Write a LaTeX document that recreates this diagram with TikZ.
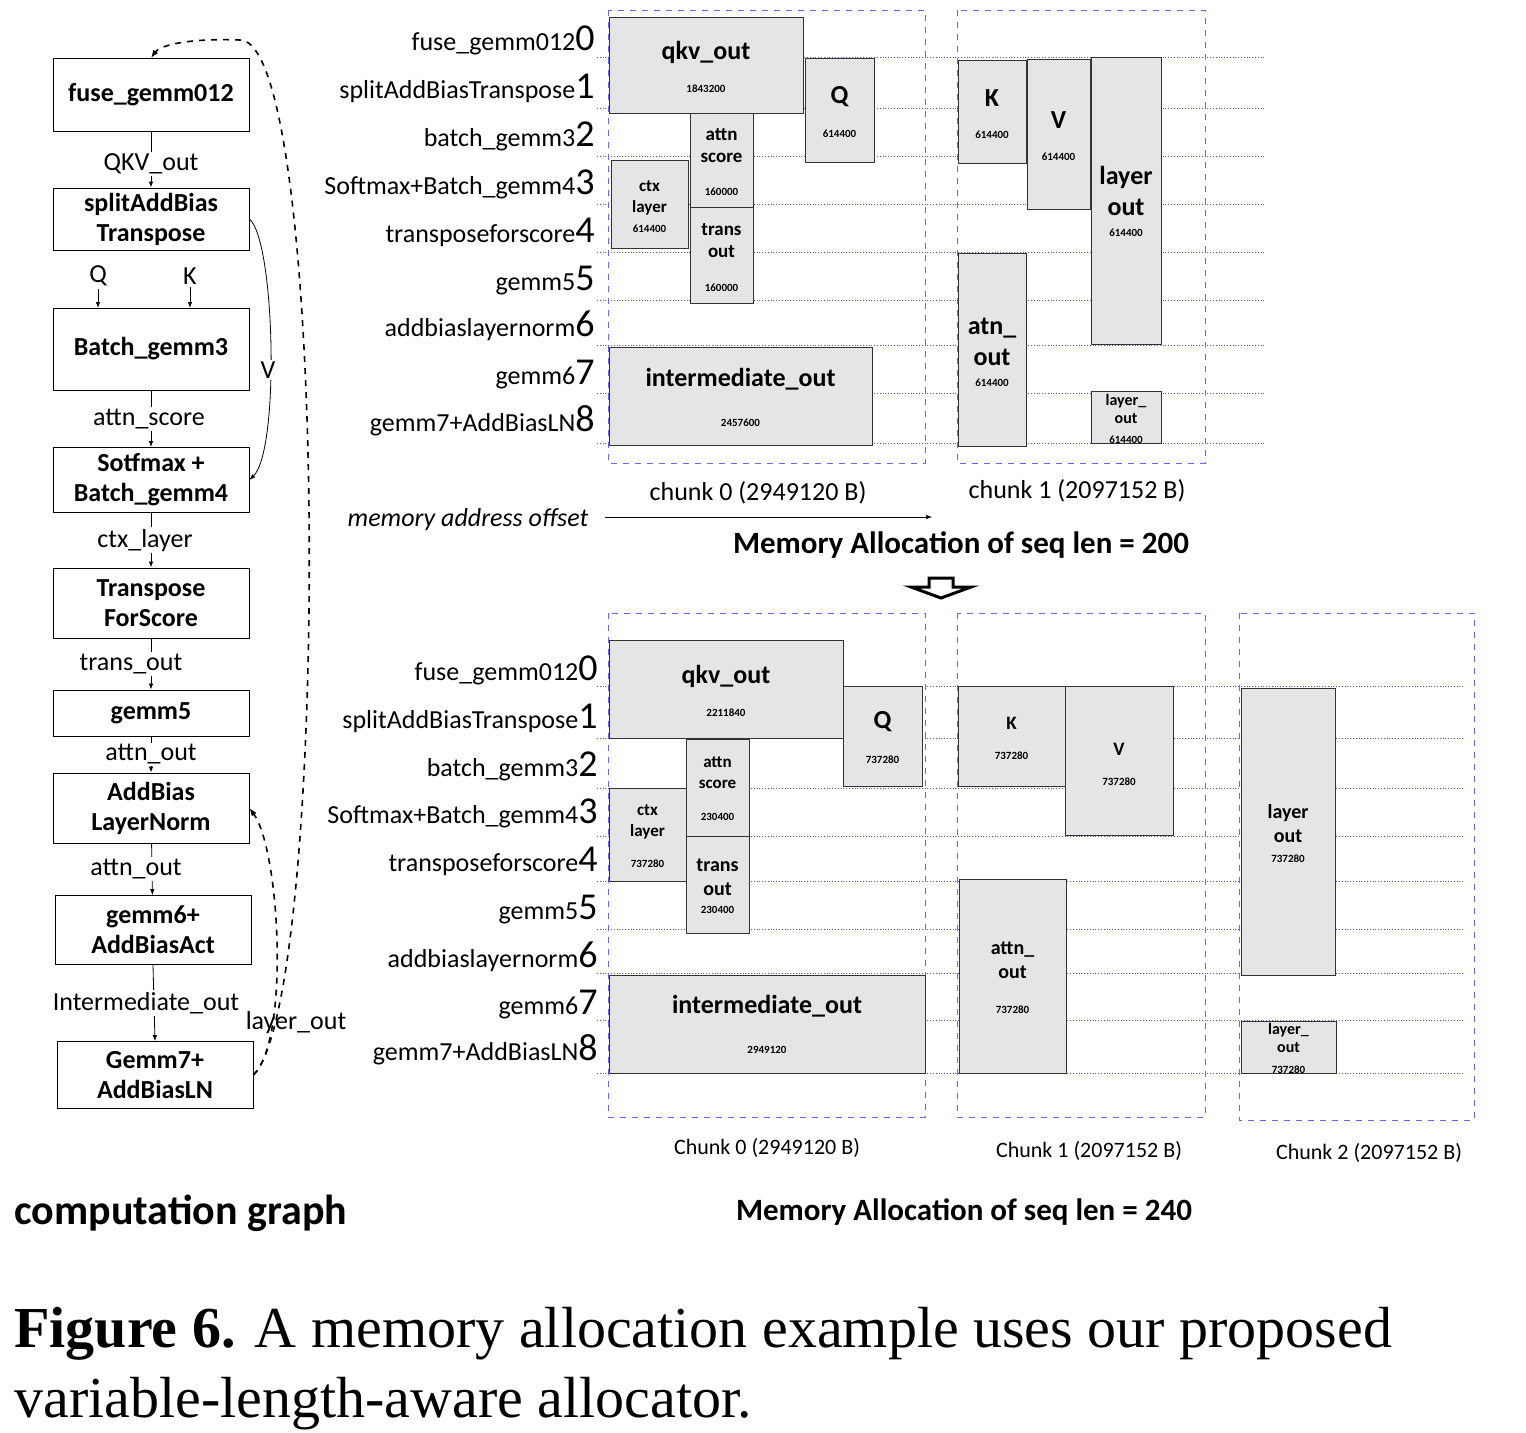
\documentclass[tikz,border=0pt]{standalone}
\usepackage{fontspec}
\setmainfont{Carlito}
\newfontfamily\capfont{Liberation Serif}
\usetikzlibrary{arrows.meta}
\tikzset{
  gbox/.style={draw, minimum width=98pt, font=\fontsize{13}{15}\selectfont\bfseries, align=center, inner sep=1pt},
  elab/.style={fill=white, inner sep=1pt, font=\fontsize{13}{14}\selectfont},
  blk/.style={draw=black!80, fill=gray!20, line width=0.5pt},
  btitle/.style={font=\fontsize{13}{14}\selectfont\bfseries, align=center, inner sep=0pt},
  bnum/.style={font=\fontsize{5.5}{6}\selectfont\bfseries, inner sep=0pt},
  rowline/.style={blue!70, densely dotted, line width=0.4pt},
  chunk/.style={blue!60, dashed, line width=0.4pt},
  rowlab/.style={anchor=base east, inner sep=0pt, font=\fontsize{13}{14}\selectfont},
  chlab/.style={font=\fontsize{13}{14}\selectfont},
}
\newcommand{\rowtxt}[4]{\node[rowlab] (#1) at (#2) {#3{\fontsize{19}{19}\selectfont #4}};}
\newcommand{\twol}[4]{{\fontsize{#1}{#1}\selectfont\bfseries\renewcommand\arraystretch{#2}\begin{tabular}{@{}c@{}}#3\\#4\end{tabular}}}
% block: name, x1,y1, x2,y2, title, title y, number, number y
\newcommand{\memblk}[9]{%
  \draw[blk] (#2,#3) rectangle (#4,#5);
  \node[btitle] (#1) at ({(#2+#4)/2},#7) {#6};
  \node[bnum] (#1n) at ({(#2+#4)/2},#9) {#8};}
\begin{document}
\begin{tikzpicture}[x=0.5pt, y=-0.5pt]
\useasboundingbox (0,0) rectangle (1526,1432);

% computation graph
\node[gbox, minimum height=36.5pt] (fuse) at (151,95) {fuse\_gemm012};
\node[gbox, minimum height=31pt] (split) at (151,219) {splitAddBias\\Transpose};
\node[gbox, minimum height=41pt] (bg3) at (151,349) {Batch\_gemm3};
\node[gbox, minimum height=32.5pt] (bg4) at (151,480) {Sotfmax +\\Batch\_gemm4};
\node[gbox, minimum height=35pt] (tfs) at (151,603) {Transpose\\ForScore};
\node[gbox, minimum height=23pt] (g5) at (151,713) {gemm5};
\node[gbox, minimum height=35pt] (abln) at (151,808) {AddBias\\LayerNorm};
\node[gbox, minimum height=34.5pt] (g6) at (153,930) {gemm6+\\AddBiasAct};
\node[gbox, minimum height=33.5pt] (g7) at (155,1075) {Gemm7+\\AddBiasLN};

\draw[-{Latex[length=3pt]}] (fuse) -- (split) node[elab, midway, yshift=-2] (qkv) {QKV\_out};
\node[elab] (ql) at (98,276) {Q};
\node[elab] (kl) at (190,276) {K};
\draw[-{Latex[length=3pt]}] (ql) -- (98,308);
\draw[-{Latex[length=3pt]}] (kl) -- (190,308);
\draw[-{Latex[length=3pt]}] (bg3) -- (bg4) node[elab, midway, xshift=-1] (as) {attn\_score};
\draw[-{Latex[length=3pt]}] (bg4) -- (tfs) node[elab, midway, xshift=-3] (ctx) {ctx\_layer};
\draw[-{Latex[length=3pt]}] (tfs) -- (g5) node[elab, midway, xshift=-10] (tro) {trans\_out};
\draw[-{Latex[length=3pt]}] (g5) -- (abln) node[elab, midway] (ao1) {attn\_out};
\draw[-{Latex[length=3pt]}] (abln) -- (g6) node[elab, midway, xshift=-8] (ao2) {attn\_out};
\draw[-{Latex[length=3pt]}] (g6.south) -- (g7.north) node[elab, midway, xshift=-4] (imo) {Intermediate\_out};
\draw[-{Latex[length=3pt]}] (split.east) .. controls (275,240) and (280,450) .. (bg4.east);
\node[elab] (vl) at (268,370) {V};
\node[elab] (lo) at (296,1023) {layer\_out};
\draw[dashed, line width=0.8pt, -{Latex[length=4pt]}] (g7.east) .. controls (290,1040) and (280,850) .. (abln.east);
\draw[dashed, line width=0.8pt, -{Latex[length=4pt]}] (g7.east) .. controls (330,1000) and (330,40) .. (240,40)
  .. controls (190,38) and (160,45) .. (fuse.north);
\node[font=\fontsize{21}{22}\selectfont\bfseries, anchor=west, inner sep=0pt] (cg) at (14,1213) {computation graph};

% seq len 200
\foreach \y in {57,108,156,204,252,300,345,393,443} \draw[rowline] (597,\y) -- (1265,\y);
\draw[chunk] (608,10) rectangle (925,463);
\draw[chunk] (957,10) rectangle (1205,463);
\rowtxt{ra0}{595,50}{fuse\_gemm012}{0}
\rowtxt{ra1}{595,98}{splitAddBiasTranspose}{1}
\rowtxt{ra2}{595,146}{batch\_gemm3}{2}
\rowtxt{ra3}{595,194}{Softmax+Batch\_gemm4}{3}
\rowtxt{ra4}{595,242}{transposeforscore}{4}
\rowtxt{ra5}{595,290}{gemm5}{5}
\rowtxt{ra6}{595,336}{addbiaslayernorm}{6}
\rowtxt{ra7}{595,384}{gemm6}{7}
\rowtxt{ra8}{595,431}{gemm7+AddBiasLN}{8}
\memblk{aqkv}{609}{17}{803}{113}{qkv\_out}{52}{1843200}{89}
\memblk{aq}{805}{58}{874}{162}{Q}{97}{614400}{134}
\memblk{aas}{690}{113}{753}{207}{\twol{9.5}{1.2}{attn}{score}}{147}{160000}{192}
\memblk{actx}{611}{160}{688}{248}{\twol{8.5}{1.2}{ctx}{layer}}{198}{614400}{229}
\memblk{atr}{690}{207}{753}{303}{\twol{9.5}{1.2}{trans}{out}}{242}{160000}{288}
\memblk{aim}{609}{347}{872}{445}{intermediate\_out}{379}{2457600}{423}
\memblk{ak}{958}{60}{1026}{163}{K}{98}{614400}{135}
\memblk{av}{1027}{59}{1090}{209}{V}{120}{614400}{157}
\memblk{alo}{1091}{57}{1161}{344}{\twol{13}{1.2}{layer}{out}}{194}{614400}{233}
\memblk{aat}{958}{253}{1026}{446}{\twol{13}{1.2}{atn\_}{out}}{344}{614400}{383}
\memblk{al2}{1091}{391}{1161}{443}{\twol{8}{1.1}{layer\_}{out}}{411}{614400}{440}
\node[chlab] (c0a) at (758,493) {chunk 0 (2949120 B)};
\node[chlab] (c1a) at (1077,491) {chunk 1 (2097152 B)};
\node[chlab, font=\fontsize{13}{14}\selectfont\itshape] (mao) at (468,520) {memory address offset};
\coordinate (maoe) at (932,517);
\draw[-{Latex[length=3pt]}, line width=0.3pt] (605,517) -- (maoe);
\node[font=\fontsize{15.5}{16}\selectfont\bfseries] (t200) at (961,545) {Memory Allocation of seq len = 200};
\draw[line width=1.5pt] (929,578) -- (953,578) -- (953,587) -- (971,587) -- (941,598) -- (911,587) -- (929,587) -- cycle;

% seq len 240
\foreach \y in {686,738,788,836,881,929,973,1020,1073} \draw[rowline] (597,\y) -- (1465,\y);
\draw[chunk] (608,613) rectangle (925,1117);
\draw[chunk] (957,613) rectangle (1205,1117);
\draw[chunk] (1239,613) rectangle (1474,1120);
\rowtxt{rb0}{598,680}{fuse\_gemm012}{0}
\rowtxt{rb1}{598,728}{splitAddBiasTranspose}{1}
\rowtxt{rb2}{598,776}{batch\_gemm3}{2}
\rowtxt{rb3}{598,823}{Softmax+Batch\_gemm4}{3}
\rowtxt{rb4}{598,871}{transposeforscore}{4}
\rowtxt{rb5}{598,919}{gemm5}{5}
\rowtxt{rb6}{598,967}{addbiaslayernorm}{6}
\rowtxt{rb7}{598,1014}{gemm6}{7}
\rowtxt{rb8}{598,1060}{gemm7+AddBiasLN}{8}
\memblk{bqkv}{609}{640}{843}{738}{qkv\_out}{676}{2211840}{713}
\memblk{bq}{843}{686}{922}{786}{Q}{722}{737280}{760}
\memblk{bas}{686}{739}{749}{836}{\twol{8.5}{1.2}{attn}{score}}{774}{230400}{817}
\memblk{bctx}{609}{788}{686}{881}{\twol{8.5}{1.2}{ctx}{layer}}{822}{737280}{864}
\memblk{btr}{686}{836}{749}{933}{\twol{10}{1.2}{trans}{out}}{879}{230400}{910}
\memblk{bim}{609}{975}{925}{1073}{intermediate\_out}{1006}{2949120}{1050}
\memblk{bk}{958}{686}{1065}{786}{\twol{9.5}{1}{K}{}}{726}{737280}{756}
\memblk{bv}{1065}{686}{1173}{835}{\twol{9.5}{1}{V}{}}{752}{737280}{782}
\memblk{bat}{959}{879}{1066}{1073}{\twol{10}{1.2}{attn\_}{out}}{962}{737280}{1010}
\memblk{blo}{1241}{688}{1335}{975}{\twol{10}{1.2}{layer}{out}}{826}{737280}{859}
\memblk{bl2}{1241}{1021}{1336}{1073}{\twol{8}{1.1}{layer\_}{out}}{1040}{737280}{1070}
\node[font=\fontsize{11}{12}\selectfont] (c0b) at (767,1148) {Chunk 0 (2949120 B)};
\node[font=\fontsize{11}{12}\selectfont] (c1b) at (1089,1151) {Chunk 1 (2097152 B)};
\node[font=\fontsize{11}{12}\selectfont] (c2b) at (1369,1153) {Chunk 2 (2097152 B)};
\node[font=\fontsize{15.5}{16}\selectfont\bfseries] (t240) at (964,1212) {Memory Allocation of seq len = 240};

% caption
\node[anchor=north west, align=left, inner sep=0pt, font=\capfont\fontsize{29}{35}\selectfont] (cap) at (14,1307)
  {\textbf{Figure 6.} A memory allocation example uses our proposed\\variable-length-aware allocator.};
\end{tikzpicture}
\end{document}
